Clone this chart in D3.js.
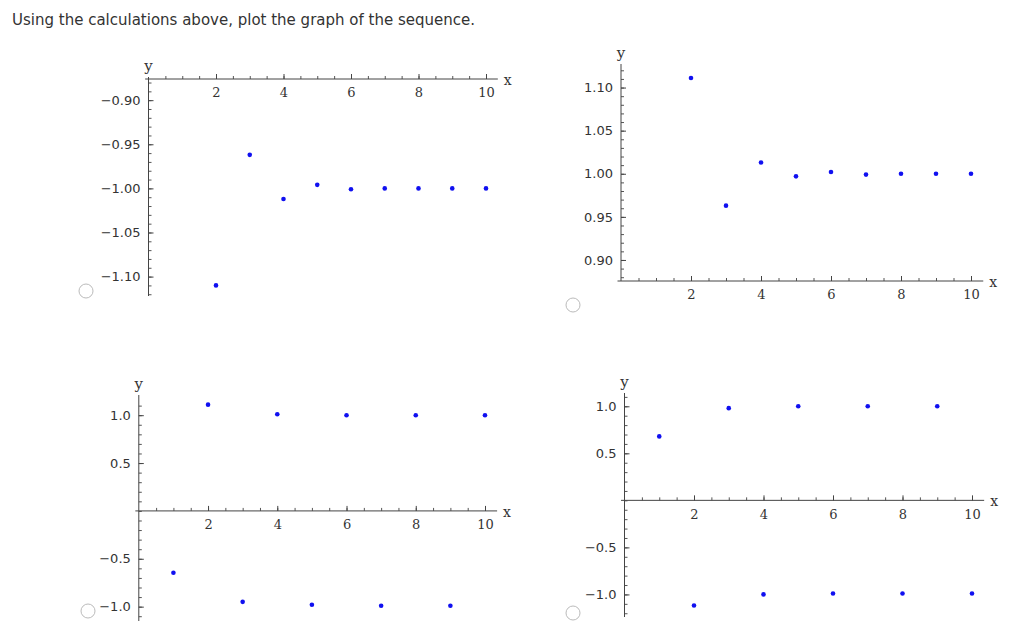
<!DOCTYPE html>
<html>
<head>
<meta charset="utf-8">
<script src="https://cdn.jsdelivr.net/npm/d3@7"></script>
<style>
body { margin: 0; background: #fff; }
.tick text { font-family: "DejaVu Serif", serif; font-size: 13px; fill: #333; }
.yax .tick text { font-family: "DejaVu Sans", sans-serif; font-size: 13px; fill: #333; }
</style>
</head>
<body>
<div class="canva"></div>
<script>
const nValues = [1, 2, 3, 4, 5, 6, 7, 8, 9, 10];

// sequence values per option
const seriesA = [-0.5, -1.11, -0.962, -1.012, -0.996, -1.001, -1.0, -1.0, -1.0, -1.0];
const seriesB = [0.5, 1.111, 0.963, 1.013, 0.997, 1.002, 0.999, 1.0, 1.0, 1.0];
const seriesC = [-0.646, 1.11, -0.95, 1.01, -0.98, 1.0, -0.99, 1.0, -0.99, 1.0];
const seriesD = [0.68, -1.117, 0.98, -1.0, 1.0, -0.99, 1.0, -0.99, 1.0, -0.99];

const xTicks = [2, 4, 6, 8, 10];
const yTicksA = [-0.90, -0.95, -1.00, -1.05, -1.10];
const yTicksB = [0.90, 0.95, 1.00, 1.05, 1.10];
const yTicksCD = [-1.0, -0.5, 0.5, 1.0];

const svg = d3.select(".canva").append("svg")
    .attr("width", 1024)
    .attr("height", 635);

svg.append("text")
    .text("Using the calculations above, plot the graph of the sequence.")
    .attr("x", 12).attr("y", 25)
    .attr("font-family", "DejaVu Sans, sans-serif")
    .attr("font-size", 15)
    .attr("fill", "#333");

// one small plot
function panel(p) {
    const g = svg.append("g");
    const x = d3.scaleLinear().domain([0, 10]).range([p.x0, p.x10]);
    const y = d3.scaleLinear().domain(p.yDom).range(p.yRange);
    const xAxisY = y(p.xCross);
    const yAxisX = x(0);
    const fmt = d3.format(p.fmt);

    // minor ticks
    const xMinor = d3.range(0.5, 10.01, 0.5);
    g.append("g").attr("transform", `translate(0,${xAxisY})`)
        .call(d3.axisTop(x).tickValues(xMinor).tickSize(3).tickFormat(""))
        .call(a => a.select(".domain").remove())
        .selectAll("line").attr("stroke", "#555");
    const yMinor = d3.range(Math.ceil(p.yDom[0] / p.yStep), Math.floor(p.yDom[1] / p.yStep) + 1)
        .map(k => k * p.yStep);
    g.append("g").attr("transform", `translate(${yAxisX},0)`)
        .call(d3.axisRight(y).tickValues(yMinor).tickSize(3).tickFormat(""))
        .call(a => a.select(".domain").remove())
        .selectAll("line").attr("stroke", "#555");

    // x axis
    const xa = g.append("g").attr("transform", `translate(0,${xAxisY})`)
        .call(d3.axisBottom(x).tickValues(xTicks).tickSize(0).tickPadding(9));
    xa.select(".domain").attr("d", `M${x(-0.1)},0H${x(10.35)}`).attr("stroke", "#444");
    g.append("g").attr("transform", `translate(0,${xAxisY})`)
        .call(d3.axisTop(x).tickValues(xTicks).tickSize(5).tickFormat(""))
        .call(a => a.select(".domain").remove())
        .selectAll("line").attr("stroke", "#444");
    g.append("text").text("x")
        .attr("x", x(10.35) + 6).attr("y", xAxisY + 6)
        .attr("font-family", "DejaVu Serif, serif").attr("font-size", 14).attr("fill", "#333");

    // y axis
    const ya = g.append("g").attr("class", "yax").attr("transform", `translate(${yAxisX},0)`)
        .call(d3.axisLeft(y).tickValues(p.yTicks).tickSize(5).tickPadding(3)
            .tickFormat(d => fmt(d).replace("-", "\u2212")));
    ya.select(".domain").attr("d", `M0,${p.yRange[1] - 2}V${p.yRange[0]}`).attr("stroke", "#444");
    ya.selectAll(".tick line").attr("x2", 5).attr("x1", 0).attr("stroke", "#444");
    g.append("text").text("y")
        .attr("x", yAxisX).attr("y", p.yRange[1] - 8)
        .attr("text-anchor", "middle")
        .attr("font-family", "DejaVu Serif, serif").attr("font-size", 15).attr("fill", "#333");

    // points
    const pts = nValues.map((n, i) => ({ n: n, v: p.data[i] }))
        .filter(d => d.v >= p.yDom[0] && d.v <= p.yDom[1]);
    g.selectAll("circle.pt").data(pts).enter().append("circle")
        .attr("class", "pt")
        .attr("cx", d => x(d.n))
        .attr("cy", d => y(d.v))
        .attr("r", 2.3)
        .attr("fill", "#1010f0");

    // radio button
    svg.append("circle")
        .attr("cx", p.radio[0]).attr("cy", p.radio[1]).attr("r", 7)
        .attr("fill", "#fff").attr("stroke", "#bbb");
}

panel({ data: seriesA, x0: 148.5, x10: 486, yDom: [-1.122, -0.876], yRange: [296, 79],
    xCross: -0.876, yTicks: yTicksA, yStep: 0.01, fmt: ".2f", radio: [86, 291] });
panel({ data: seriesB, x0: 621, x10: 971, yDom: [0.8756, 1.125], yRange: [281, 66],
    xCross: 0.8756, yTicks: yTicksB, yStep: 0.01, fmt: ".2f", radio: [573, 305] });
panel({ data: seriesC, x0: 138.8, x10: 485, yDom: [-1.15, 1.19], yRange: [621, 397],
    xCross: 0, yTicks: yTicksCD, yStep: 0.1, fmt: ".1f", radio: [88, 611] });
panel({ data: seriesD, x0: 624.5, x10: 972, yDom: [-1.24, 1.12], yRange: [617, 395],
    xCross: 0, yTicks: yTicksCD, yStep: 0.1, fmt: ".1f", radio: [573, 613] });
</script>
</body>
</html>
